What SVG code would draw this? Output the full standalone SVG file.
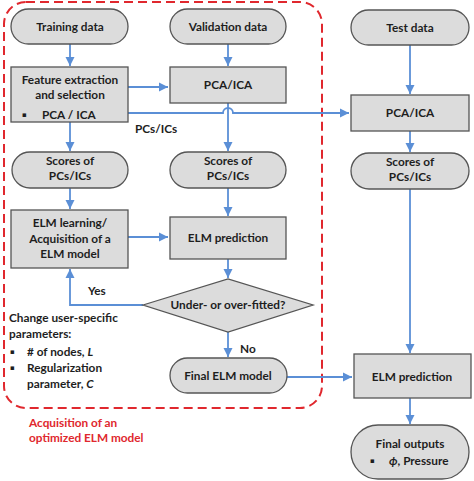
<svg xmlns="http://www.w3.org/2000/svg" width="474" height="481" viewBox="0 0 474 481">
<defs>
<marker id="ah" markerWidth="10" markerHeight="10" refX="9" refY="5" orient="auto" markerUnits="userSpaceOnUse">
<path d="M0,0.5 L9,5 L0,9.5 Z" fill="#5b8fd6"/>
</marker>
</defs>
<style>
.n{fill:#dcdcdc;stroke:#555;stroke-width:1.3}
.t{font-family:Lato,"Liberation Sans",sans-serif;font-weight:bold;font-size:11.8px;fill:#1e1e1e;text-anchor:middle}
.l{font-family:Lato,"Liberation Sans",sans-serif;font-weight:bold;font-size:11.8px;fill:#1e1e1e}
.c{fill:none;stroke:#5b8fd6;stroke-width:1.8}
.r{font-family:Lato,"Liberation Sans",sans-serif;font-weight:bold;font-size:11.8px;fill:#e0282e}
</style>
<rect x="4" y="2" width="318" height="406" rx="22" fill="none" stroke="#e0282e" stroke-width="2" stroke-dasharray="9,5"/>
<g id="connectors">
<path class="c" d="M70,44 V66" marker-end="url(#ah)"/>
<path class="c" d="M228,44 V66" marker-end="url(#ah)"/>
<path class="c" d="M410,45 V94" marker-end="url(#ah)"/>
<path class="c" d="M128,87 H168" marker-end="url(#ah)"/>
<path class="c" d="M128,113 H223 a5,5 0 0 1 10,0 H349" marker-end="url(#ah)"/>
<path class="c" d="M228,103 V151" marker-end="url(#ah)"/>
<path class="c" d="M70,122 V151" marker-end="url(#ah)"/>
<path class="c" d="M410,131 V152" marker-end="url(#ah)"/>
<path class="c" d="M70,188 V209" marker-end="url(#ah)"/>
<path class="c" d="M228,188 V216" marker-end="url(#ah)"/>
<path class="c" d="M128,237 H168" marker-end="url(#ah)"/>
<path class="c" d="M228,259 V278" marker-end="url(#ah)"/>
<path class="c" d="M143,305 H70 V269" marker-end="url(#ah)"/>
<path class="c" d="M228,332 V357" marker-end="url(#ah)"/>
<path class="c" d="M410,189 V353" marker-end="url(#ah)"/>
<path class="c" d="M287,377 H352" marker-end="url(#ah)"/>
<path class="c" d="M410,398 V424" marker-end="url(#ah)"/>
</g>
<g id="training-data"><rect class="n" x="11" y="9" width="117" height="35" rx="17.5"/><text class="t" x="70" y="31">Training data</text></g>
<g id="validation-data"><rect class="n" x="170" y="9" width="116" height="35" rx="17.5"/><text class="t" x="228" y="31">Validation data</text></g>
<g id="test-data"><rect class="n" x="351" y="10" width="118" height="35" rx="17.5"/><text class="t" x="410" y="32">Test data</text></g>
<g id="feature-extraction"><rect class="n" x="11" y="67" width="117" height="55"/>
<text class="t" x="70" y="84">Feature extraction</text><text class="t" x="70" y="99">and selection</text>
<text class="l" x="22" y="119">▪</text><text class="l" x="42" y="119">PCA / ICA</text></g>
<g id="pca-ica-val"><rect class="n" x="170" y="67" width="116" height="36"/><text class="t" x="228" y="89">PCA/ICA</text></g>
<g id="pca-ica-test"><rect class="n" x="351" y="95" width="118" height="36"/><text class="t" x="410" y="117">PCA/ICA</text></g>
<text class="l" x="135" y="133">PCs/ICs</text>
<g id="scores-train"><rect class="n" x="12" y="152" width="116" height="36" rx="18"/><text class="t" x="70" y="165">Scores of</text><text class="t" x="70" y="180">PCs/ICs</text></g>
<g id="scores-val"><rect class="n" x="170" y="152" width="116" height="36" rx="18"/><text class="t" x="228" y="165">Scores of</text><text class="t" x="228" y="180">PCs/ICs</text></g>
<g id="scores-test"><rect class="n" x="351" y="153" width="118" height="36" rx="18"/><text class="t" x="410" y="166">Scores of</text><text class="t" x="410" y="181">PCs/ICs</text></g>
<g id="elm-learning"><rect class="n" x="11" y="210" width="117" height="58"/>
<text class="t" x="70" y="227">ELM learning/</text><text class="t" x="70" y="243">Acquisition of a</text><text class="t" x="70" y="258">ELM model</text></g>
<g id="elm-pred-val"><rect class="n" x="170" y="217" width="116" height="42"/><text class="t" x="228" y="242">ELM prediction</text></g>
<g id="decision"><path class="n" d="M143,305 L228,279 L313,305 L228,332 Z"/><text class="t" x="228" y="309">Under- or over-fitted?</text></g>
<text class="l" x="88" y="295">Yes</text>
<text class="l" x="240" y="353">No</text>
<g id="user-params">
<text class="l" x="9" y="322">Change user-specific</text>
<text class="l" x="9" y="338">parameters:</text>
<text class="l" x="10" y="356">▪</text><text class="l" x="27" y="356"># of nodes, <tspan font-style="italic">L</tspan></text>
<text class="l" x="10" y="372">▪</text><text class="l" x="27" y="372">Regularization</text>
<text class="l" x="27" y="388">parameter, <tspan font-style="italic">C</tspan></text>
</g>
<g id="final-elm"><rect class="n" x="170" y="358" width="117" height="35" rx="17.5"/><text class="t" x="228" y="380">Final ELM model</text></g>
<g id="elm-pred-test"><rect class="n" x="354" y="354" width="117" height="44"/><text class="t" x="412" y="381">ELM prediction</text></g>
<g id="final-outputs"><rect class="n" x="351" y="425" width="118" height="54" rx="27"/>
<text class="t" x="410" y="448">Final outputs</text>
<text class="l" x="370" y="465">▪</text><text class="l" x="389" y="465"><tspan font-style="italic">ϕ</tspan>, Pressure</text></g>
<g id="label-opt"><text class="r" x="29" y="427">Acquisition of an</text><text class="r" x="29" y="442">optimized ELM model</text></g>
</svg>
